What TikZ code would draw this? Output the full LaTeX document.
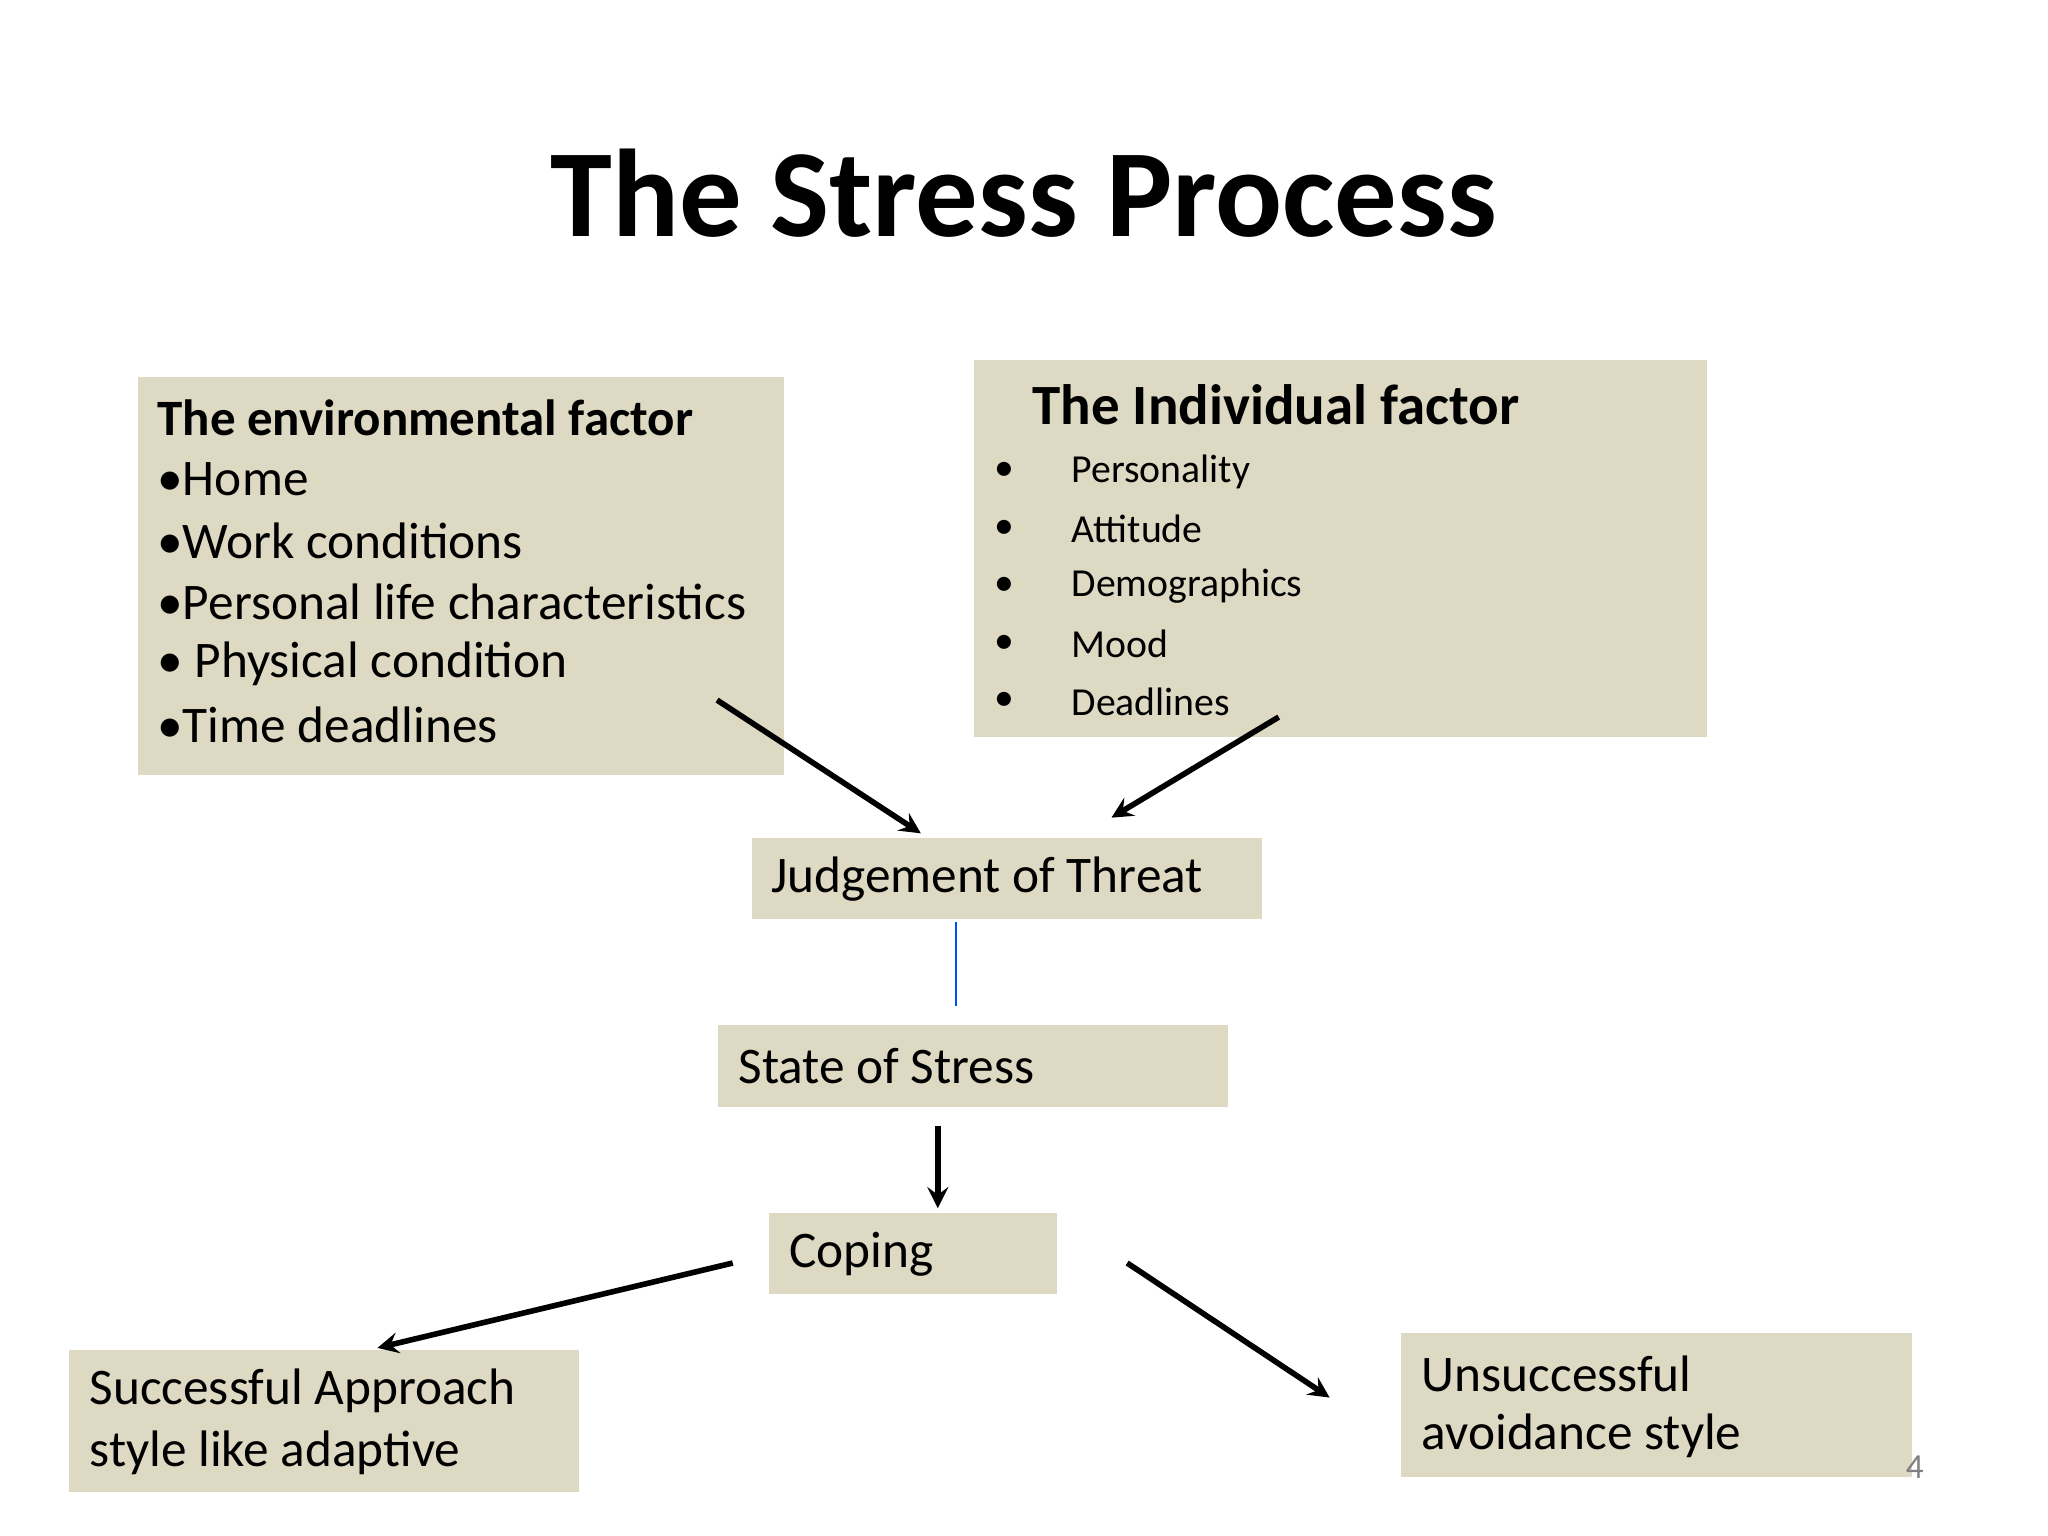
\documentclass[tikz,border=0pt]{standalone}
\usepackage{fontspec}
\setmainfont{Carlito}
\usetikzlibrary{positioning}
\definecolor{tan}{HTML}{DDD9C3}
\tikzset{
  box/.style={fill=tan, draw=none, anchor=north west, inner sep=0pt},
  lbl/.style={anchor=west, inner sep=0pt, font=\fontsize{14.6}{17}\selectfont},
  item/.style={anchor=west, inner sep=0pt, font=\fontsize{11.3}{13}\selectfont},
  arr/.style={->, >=stealth, line width=1.6pt}
}
\newcommand{\px}{0.01306cm}
\begin{document}
\begin{tikzpicture}[x=0.01306cm, y=-0.01306cm]
  \useasboundingbox (0,0) rectangle (1568,1176);
  % title
  \node (title) at (784,148) {\fontsize{35.5}{40}\selectfont\bfseries The Stress Process};

  % environmental factor
  \node[box, minimum width=495*\px, minimum height=305*\px] (env) at (105,288) {};
  \node[lbl, font=\fontsize{14.5}{17}\selectfont\bfseries] at (120,320) {The environmental factor};
  \node[lbl] at (120,367) {•Home};
  \node[lbl] at (120,414) {•Work conditions};
  \node[lbl] at (120,461) {•Personal life characteristics};
  \node[lbl] at (120,508) {• Physical condition};
  \node[lbl] at (120,555) {•Time deadlines};

  % individual factor
  \node[box, minimum width=561*\px, minimum height=289*\px] (ind) at (745,275) {};
  \node[lbl, font=\fontsize{16.2}{19}\selectfont\bfseries] at (790,310) {The Individual factor};
  \foreach \t [count=\i from 0] in {Personality,Attitude,Demographics,Mood,Deadlines}{
    \node[item] at (761,361+44*\i) {•};
    \node[item] at (820,361+44*\i) {\t};
  }

  % process
  \node[box, minimum width=391*\px, minimum height=62*\px] (judg) at (575,641) {};
  \node[lbl] at (590,673) {Judgement of Threat};
  \node[box, minimum width=391*\px, minimum height=63*\px] (state) at (549,784) {};
  \node[lbl] at (565,816) {State of Stress};
  \node[box, minimum width=221*\px, minimum height=62*\px] (coping) at (588,928) {};
  \node[lbl] at (604,960) {Coping};

  % outcomes
  \node[box, minimum width=391*\px, minimum height=109*\px] (succ) at (52,1033) {};
  \node[lbl] at (68,1065) {Successful Approach};
  \node[lbl] at (68,1112) {style like adaptive};
  \node[box, minimum width=391*\px, minimum height=110*\px] (unsucc) at (1072,1020) {};
  \node[lbl] at (1088,1052) {Unsuccessful};
  \node[lbl] at (1088,1099) {avoidance style};
  \node[text=gray, font=\fontsize{10}{12}\selectfont] (pg) at (1466,1123) {4};

  % connectors
  \coordinate (e1) at (549,536); \coordinate (e2) at (705,638);
  \coordinate (i1) at (979,549); \coordinate (i2) at (851,626);
  \coordinate (j1) at (732,706); \coordinate (j2) at (732,770);
  \coordinate (s1) at (718,862); \coordinate (s2) at (718,925);
  \coordinate (c1) at (561,967); \coordinate (c2) at (289,1032);
  \coordinate (c3) at (863,967); \coordinate (c4) at (1018,1070);
  \draw[arr] (e1) -- (e2);
  \draw[arr] (i1) -- (i2);
  \draw[blue!70!cyan, line width=0.6pt] (j1) -- (j2);
  \draw[arr] (s1) -- (s2);
  \draw[arr] (c1) -- (c2);
  \draw[arr] (c3) -- (c4);
\end{tikzpicture}
\end{document}
